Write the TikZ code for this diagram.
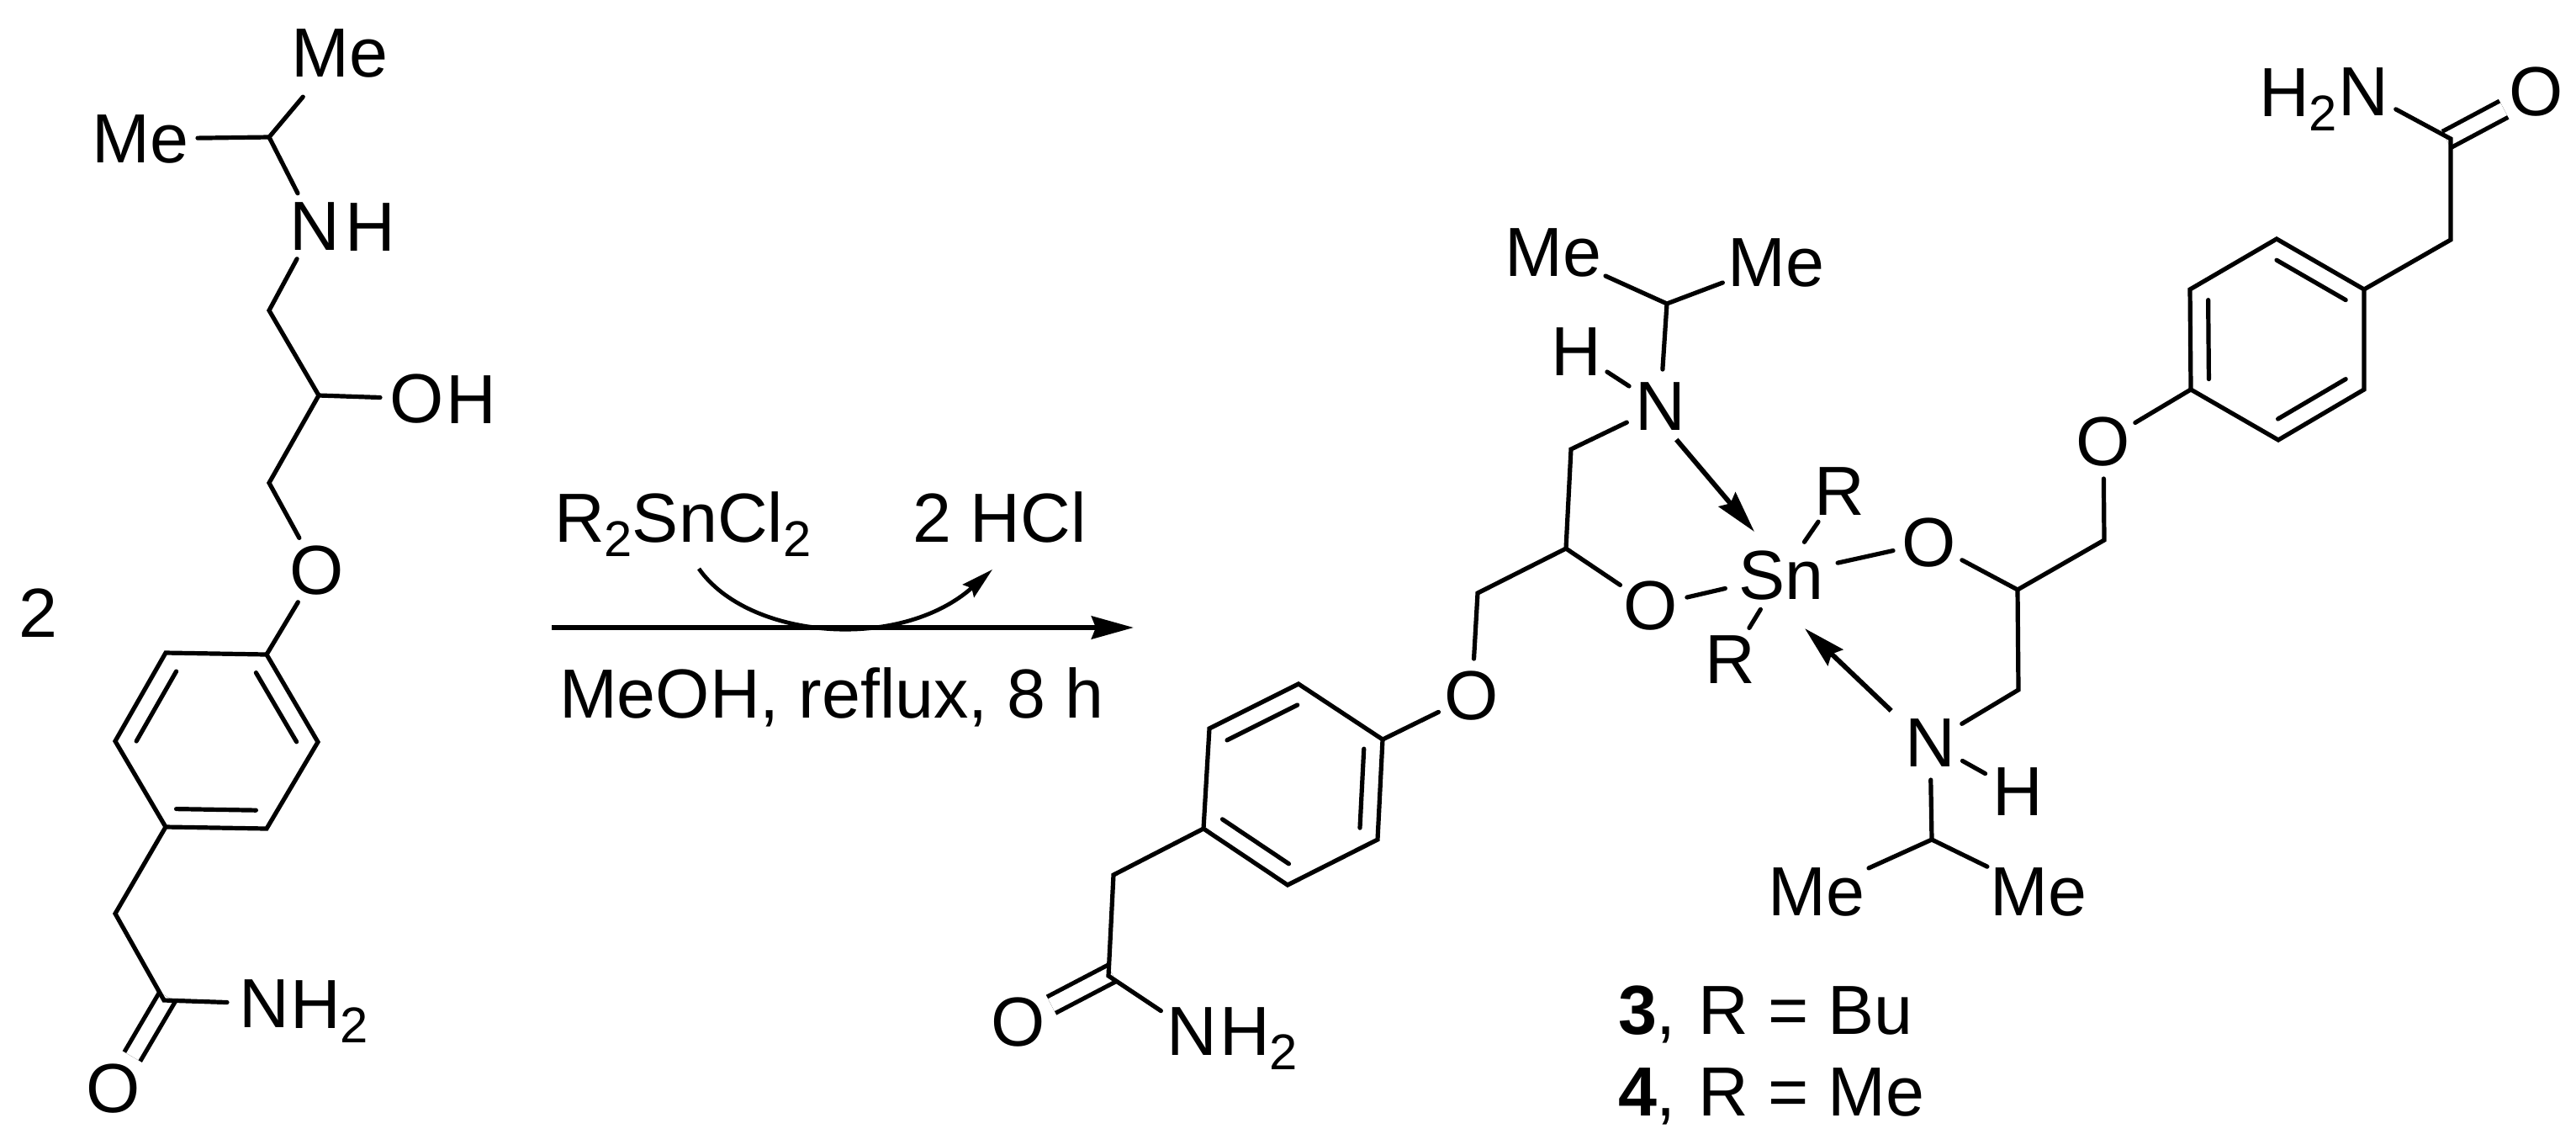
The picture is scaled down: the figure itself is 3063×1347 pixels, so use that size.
\documentclass[tikz,border=0pt]{standalone}
\usepackage{fontspec}
\setmainfont{Liberation Sans}
\usepackage{tikz}
\usetikzlibrary{calc,arrows.meta,shapes.geometric}
\def\subnum#1{\raisebox{-0.17cm}{\fontsize{17}{20}\selectfont #1}}
\def\innerbond(#1)(#2)(#3){\draw[bond] ($(#1)!0.21!(#3)$) -- ($(#2)!0.21!(#3)$);}
\tikzset{
	bond/.style={line width=0.052cm, line cap=round, line join=miter},
	dbl/.style={line width=0.052cm, line cap=butt, double, double distance=0.165cm},
	txt/.style={inner sep=0pt, outer sep=0pt, font=\fontsize{23.5}{28}\selectfont},
	atom/.style={txt, circle, minimum size=0.88cm},
	methyl/.style={txt, circle, minimum size=1.36cm},
	tin/.style={txt, ellipse, minimum width=1.12cm, minimum height=0.86cm},
	dative/.style={line width=0.058cm, -{Stealth[length=0.5cm, width=0.26cm, inset=0.06cm]}},
}

\begin{document}
\begin{tikzpicture}[x=0.01cm, y=-0.01cm]
	\useasboundingbox (0, 0) rectangle (3063, 1347);
	%%%%% START %%%%%
	% left reactant
	\node[atom] (lcount) at (45, 729) {2};
	\node[methyl] (lMeA) at (404, 63) {Me};
	\node[methyl] (lMeB) at (167, 165) {Me};
	\coordinate (lCiso) at (320, 163);
	\node[atom] (lN) at (374, 269) {N};
	\node[txt, anchor=base west] (lNH) at (410, 298) {H};
	\coordinate (lCa) at (320, 369);
	\coordinate (lCb) at (379, 470);
	\node[atom] (lOH) at (496, 474) {O};
	\node[txt, anchor=base west] (lOHh) at (530, 503) {H};
	\coordinate (lCc) at (320, 574);
	\node[atom] (lO) at (377, 678) {O};
	\coordinate (lRa) at (317, 778);
	\coordinate (lRb) at (378, 882);
	\coordinate (lRc) at (317, 985);
	\coordinate (lRd) at (197, 983);
	\coordinate (lRe) at (137, 881);
	\coordinate (lRf) at (197, 776);
	\coordinate (lRm) at (257, 881);
	\coordinate (lCd) at (137, 1086);
	\coordinate (lCo) at (195, 1189);
	\coordinate (lCx) at (199, 1185);
	\node[atom] (lOx) at (135, 1294) {O};
	\node[atom] (lNa) at (314, 1193) {N};
	\node[txt, anchor=base west] (lNah) at (345, 1222) {H\subnum{2}};

	\draw[dbl] (lCx) -- (lOx);
	\draw[bond] (lMeA) -- (lCiso) -- (lN);
	\draw[bond] (lMeB) -- (lCiso);
	\draw[bond] (lN) -- (lCa) -- (lCb) -- (lCc) -- (lO);
	\draw[bond] (lCb) -- (lOH);
	\draw[bond] (lO) -- (lRa);
	\draw[bond] (lRa) -- (lRb) -- (lRc) -- (lRd) -- (lRe) -- (lRf) -- cycle;
	\innerbond(lRf)(lRe)(lRm);
	\innerbond(lRa)(lRb)(lRm);
	\innerbond(lRd)(lRc)(lRm);
	\draw[bond] (lRd) -- (lCd) -- (lCo) -- (lNa);

	% reaction arrow
	\coordinate (arrA) at (656, 746);
	\coordinate (arrB) at (1348, 746);
	\coordinate (curvA) at (831, 676);
	\coordinate (curvB) at (1180, 677);
	\draw[line width=0.058cm, -{Stealth[length=0.5cm, width=0.27cm, inset=0.05cm]}] (arrA) -- (arrB);
	\draw[line width=0.048cm, -{Stealth[length=0.38cm, width=0.2cm, inset=0.05cm]}] (curvA) .. controls (890, 760) and (1070, 775) .. (curvB);
	\node[txt, anchor=base west] (reagent) at (659, 644) {R\subnum{2}SnCl\subnum{2}};
	\node[txt, anchor=base west] (byprod) at (1085, 644) {2 HCl};
	\node[txt, anchor=base west] (cond) at (665, 853) {MeOH, reflux, 8 h};

	% product, tin centre
	\node[tin] (sn) at (2118, 684) {Sn};
	\node[atom] (rA) at (2187, 584) {R};
	\node[atom] (rB) at (2057, 784) {R};
	\coordinate (snTipA) at (2086, 632);
	\coordinate (snTipB) at (2146, 747);

	% product, lower left arm
	\node[atom] (aO) at (1963, 720) {O};
	\coordinate (aCb) at (1862, 652);
	\coordinate (aCa) at (1868, 534);
	\node[atom] (aN) at (1974, 483) {N};
	\node[atom] (aH) at (1874, 418) {H};
	\coordinate (aCiso) at (1982, 361);
	\node[methyl] (aMeA) at (1847, 300) {Me};
	\node[methyl] (aMeB) at (2112, 312) {Me};
	\coordinate (aCc) at (1757, 705);
	\node[atom] (aOr) at (1750, 827) {O};
	\coordinate (aRa) at (1644, 879);
	\coordinate (aRb) at (1544, 813);
	\coordinate (aRc) at (1438, 866);
	\coordinate (aRd) at (1431, 985);
	\coordinate (aRe) at (1531, 1052);
	\coordinate (aRf) at (1638, 998);
	\coordinate (aRm) at (1538, 932);
	\coordinate (aCd) at (1324, 1040);
	\coordinate (aCo) at (1318, 1160);
	\coordinate (aCx) at (1322, 1157);
	\node[atom] (aOx) at (1211, 1215) {O};
	\node[atom] (aNa) at (1417, 1226) {N};
	\node[txt, anchor=base west] (aNah) at (1450, 1254) {H\subnum{2}};

	\draw[dbl] (aCx) -- (aOx);
	\draw[bond] (sn) -- (aO);
	\draw[bond] (aO) -- (aCb) -- (aCa) -- (aN);
	\draw[bond] (aN) -- (aH);
	\draw[bond] (aN) -- (aCiso) -- (aMeA);
	\draw[bond] (aCiso) -- (aMeB);
	\draw[bond] (aCb) -- (aCc) -- (aOr) -- (aRa);
	\draw[bond] (aRa) -- (aRb) -- (aRc) -- (aRd) -- (aRe) -- (aRf) -- cycle;
	\innerbond(aRb)(aRc)(aRm);
	\innerbond(aRa)(aRf)(aRm);
	\innerbond(aRd)(aRe)(aRm);
	\draw[bond] (aRd) -- (aCd) -- (aCo) -- (aNa);
	\draw[dative] (aN.-64) -- (snTipA);

	% product, upper right arm
	\node[atom] (bO) at (2294, 645) {O};
	\coordinate (bCb) at (2399, 701);
	\coordinate (bCa) at (2400, 820);
	\node[atom] (bN) at (2295, 883) {N};
	\node[atom] (bH) at (2399, 941) {H};
	\coordinate (bCiso) at (2297, 998);
	\node[methyl] (bMeA) at (2160, 1060) {Me};
	\node[methyl] (bMeB) at (2424, 1060) {Me};
	\coordinate (bCc) at (2502, 642);
	\node[atom] (bOr) at (2501, 525) {O};
	\coordinate (bRa) at (2605, 463);
	\coordinate (bRb) at (2709, 523);
	\coordinate (bRc) at (2811, 463);
	\coordinate (bRd) at (2811, 344);
	\coordinate (bRe) at (2707, 284);
	\coordinate (bRf) at (2604, 344);
	\coordinate (bRm) at (2707, 404);
	\coordinate (bCd) at (2914, 285);
	\coordinate (bCo) at (2914, 165);
	\coordinate (bCx) at (2909, 166);
	\node[atom] (bOx) at (3016, 109) {O};
	\node[atom] (bNa) at (2810, 109) {N};
	\node[txt, anchor=base east] (bNah) at (2779, 138) {H\subnum{2}};

	\draw[dbl] (bCx) -- (bOx);
	\draw[bond] (sn) -- (bO);
	\draw[bond] (bO) -- (bCb) -- (bCa) -- (bN);
	\draw[bond] (bN) -- (bH);
	\draw[bond] (bN) -- (bCiso) -- (bMeA);
	\draw[bond] (bCiso) -- (bMeB);
	\draw[bond] (bCb) -- (bCc) -- (bOr) -- (bRa);
	\draw[bond] (bRa) -- (bRb) -- (bRc) -- (bRd) -- (bRe) -- (bRf) -- cycle;
	\innerbond(bRf)(bRa)(bRm);
	\innerbond(bRb)(bRc)(bRm);
	\innerbond(bRe)(bRd)(bRm);
	\draw[bond] (bRd) -- (bCd) -- (bCo) -- (bNa);
	\draw[dative, shorten <=0.16cm] (bN.142) -- (snTipB);

	\draw[bond] (sn) -- (rA);
	\draw[bond] (sn) -- (rB);

	% captions
	\node[txt, anchor=base west] (capA) at (1924, 1229) {\textbf{3}, \kern0.04cm R = Bu};
	\node[txt, anchor=base west] (capB) at (1924, 1326) {\textbf{4}, \kern0.04cm R = Me};
	%%%%% END %%%%%
\end{tikzpicture}
\end{document}
